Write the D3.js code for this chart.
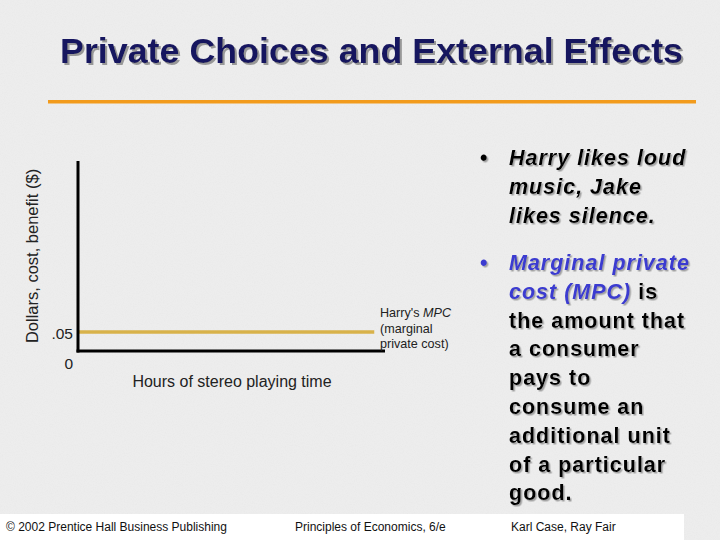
<!DOCTYPE html>
<html><head><meta charset="utf-8">
<script src="https://cdn.jsdelivr.net/npm/d3@7"></script>
<style>
html,body{margin:0;padding:0;background:#ececec;}
svg{display:block;}
</style></head>
<body>
<script>
// ---- data ----
const titleText = "Private Choices and External Effects";
const yAxisTitle = "Dollars, cost, benefit ($)";
const xAxisTitle = "Hours of stereo playing time";
const yTickValues = [0.05];
const yTickLabels = [".05"];
const originLabel = "0";
const mpcHours = [0, 0.965];
const mpcValues = [0.05, 0.05];
const curveLabel = [["Harry's ", "MPC"], ["(marginal"], ["private cost)"]];
const bullet1 = ["Harry likes loud", "music, Jake", "likes silence."];
const bullet2Blue = ["Marginal private", "cost (MPC)"];
const bullet2Black = [" is", "the amount that", "a consumer", "pays to", "consume an", "additional unit", "of a particular", "good."];
const footer = ["© 2002 Prentice Hall Business Publishing", "Principles of Economics, 6/e", "Karl Case, Ray Fair"];

const W = 720, H = 540;
const svg = d3.select("body").append("svg").attr("width", W).attr("height", H);
const ff = "Liberation Sans, Arial, sans-serif";

// textured background
const defs = svg.append("defs");
const filt = defs.append("filter").attr("id","tex").attr("x",0).attr("y",0).attr("width","100%").attr("height","100%");
filt.append("feTurbulence").attr("type","fractalNoise").attr("baseFrequency","0.9").attr("numOctaves",2).attr("seed",3).attr("result","n");
filt.append("feColorMatrix").attr("type","matrix")
  .attr("values","0 0 0 0 0.55  0 0 0 0 0.55  0 0 0 0 0.55  0 0 0 -0.9 0.55");
const sh = defs.append("filter").attr("id","shadow").attr("x","-5%").attr("y","-20%").attr("width","110%").attr("height","150%");
sh.append("feDropShadow").attr("dx",2).attr("dy",2).attr("stdDeviation",0.3).attr("flood-color","#8f8f8f").attr("flood-opacity",0.9);
const sh2 = defs.append("filter").attr("id","shadow2").attr("x","-5%").attr("y","-20%").attr("width","110%").attr("height","150%");
sh2.append("feDropShadow").attr("dx",1.5).attr("dy",1.5).attr("stdDeviation",0.3).attr("flood-color","#9a9a9a").attr("flood-opacity",0.9);

svg.append("rect").attr("width",W).attr("height",H).attr("fill","#ededed");
svg.append("rect").attr("width",W).attr("height",H).attr("filter","url(#tex)").attr("opacity",0.18);

// title with shadow (condensed)
svg.append("text").attr("x",60).attr("y",63)
  .attr("font-family",ff).attr("font-weight","bold").attr("font-size",35)
  .attr("fill","#16145e").attr("textLength",623).attr("lengthAdjust","spacingAndGlyphs")
  .attr("filter","url(#shadow)").text(titleText);

// orange rule
svg.append("rect").attr("x",48).attr("y",100).attr("width",648).attr("height",3.5).attr("fill","#f29b1c");

// ---- chart ----
const x = d3.scaleLinear().domain([0,1]).range([78,385]);
const y = d3.scaleLinear().domain([0,0.5]).range([351,161]);
const g = svg.append("g");

// MPC line
const line = d3.line().x(d=>x(d[0])).y(d=>y(d[1]));
g.append("path").datum(d3.zip(mpcHours, mpcValues)).attr("d", line)
  .attr("stroke","#d8b24a").attr("stroke-width",3.5).attr("fill","none");

// y axis tick labels (no tick marks)
const yAxis = d3.axisLeft(y).tickValues(yTickValues).tickSize(0).tickPadding(5)
  .tickFormat((d,i)=>yTickLabels[i]);
const yg = g.append("g").attr("transform",`translate(${x(0)},0)`).call(yAxis);
yg.select(".domain").remove();
yg.selectAll("text").attr("font-family",ff).attr("font-size",15.5).attr("fill","#222").attr("dy","0.4em");

g.append("line").attr("x1",x(0)).attr("x2",x(0)).attr("y1",y(0.5)).attr("y2",y(0)+1.5)
  .attr("stroke","#000").attr("stroke-width",3);
g.append("line").attr("x1",x(0)-1.5).attr("x2",x(1)).attr("y1",y(0)).attr("y2",y(0))
  .attr("stroke","#000").attr("stroke-width",3);

g.append("text").attr("x",x(0)-5).attr("y",y(0)+18).attr("text-anchor","end")
  .attr("font-family",ff).attr("font-size",15.5).attr("fill","#222").text(originLabel);

g.append("text").attr("x",232).attr("y",387).attr("text-anchor","middle")
  .attr("font-family",ff).attr("font-size",16).attr("fill","#222").text(xAxisTitle);

g.append("text").attr("transform",`translate(38,256) rotate(-90)`).attr("text-anchor","middle")
  .attr("font-family",ff).attr("font-size",16.5).attr("fill","#222").text(yAxisTitle);

// curve label
const cl = g.append("text").attr("font-family",ff).attr("font-size",12.6).attr("fill","#222");
curveLabel.forEach((parts,i)=>{
  parts.forEach((p,j)=>{
    const ts = cl.append("tspan").text(p);
    if(j===0) ts.attr("x",380).attr("y",317+i*15.5);
    if(p==="MPC") ts.attr("font-style","italic");
  });
});

// ---- bullets ----
const bx = 509, lh = 28.8;
function shadowText(sel, xx, yy, parts){
  const t = sel.append("text").attr("x",xx).attr("y",yy).attr("font-family",ff).attr("font-size",21.5)
    .attr("font-weight","bold").attr("letter-spacing",1).attr("filter","url(#shadow2)");
  parts.forEach(p=>{
    t.append("tspan").text(p.t).attr("fill", p.c).attr("font-style",p.i?"italic":"normal");
  });
}
const bt = svg.append("g");
shadowText(bt, 480, 165, [{t:"•",c:"#000"}]);
bullet1.forEach((s,i)=>shadowText(bt, bx, 165+i*29, [{t:s,c:"#000",i:true}]));
shadowText(bt, 480, 270, [{t:"•",c:"#3a3ad0"}]);
shadowText(bt, bx, 270, [{t:bullet2Blue[0],c:"#3a3ad0",i:true}]);
shadowText(bt, bx, 270+lh, [{t:bullet2Blue[1],c:"#3a3ad0",i:true},{t:bullet2Black[0],c:"#000"}]);
bullet2Black.slice(1).forEach((s,i)=>shadowText(bt, bx, 270+(i+2)*lh, [{t:s,c:"#000"}]));

// ---- footer ----
svg.append("rect").attr("x",0).attr("y",514).attr("width",684).attr("height",26).attr("fill","#ffffff");
const fx = [6, 295, 511];
footer.forEach((s,i)=>svg.append("text").attr("x",fx[i]).attr("y",531)
  .attr("font-family",ff).attr("font-size",12).attr("fill","#111").text(s));
</script>
</body></html>
